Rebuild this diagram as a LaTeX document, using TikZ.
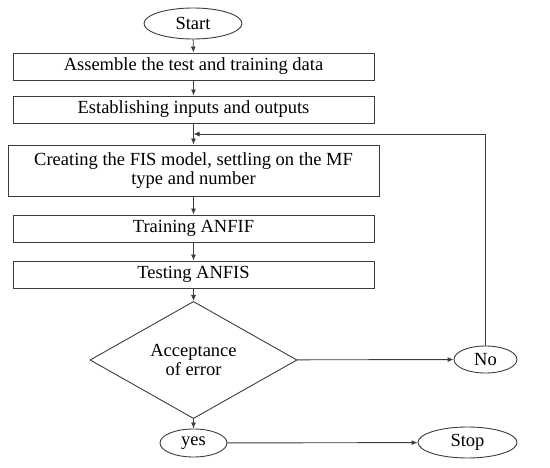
\documentclass[tikz,border=0pt]{standalone}
\usepackage{fontspec}
\setmainfont{Liberation Serif}
\usepackage{tikz}
\usetikzlibrary{shapes.geometric,arrows.meta}
\definecolor{line}{HTML}{3C3C3C}
\tikzset{
  stepbox/.style={draw=line, line width=0.9pt, rectangle, inner sep=0pt, minimum width=361pt, minimum height=27pt, font=\fontsize{18.5}{18.5}\selectfont, align=center},
  term/.style={draw=line, line width=0.9pt, ellipse, inner sep=0pt, font=\fontsize{18.5}{18.5}\selectfont},
  test/.style={draw=line, line width=0.9pt, diamond, inner sep=0pt, minimum width=207pt, minimum height=114pt, font=\fontsize{18.5}{18.5}\selectfont, align=center},
  flow/.style={draw=line, line width=0.9pt, -{Latex[length=6pt,width=5pt]}},
}
\begin{document}
\begin{tikzpicture}[x=1pt,y=-1pt]
  \useasboundingbox (0,0) rectangle (550,468);
  \node[term, minimum width=98pt, minimum height=31pt] (start) at (193,23.5) {Start};
  \node[stepbox] (data) at (193.5,66.5) {Assemble the test and training data};
  \node[stepbox] (io) at (193.5,109.5) {Establishing inputs and outputs};
  \node[stepbox, minimum width=371pt, minimum height=51pt] (fis) at (193.5,170.5) {Creating the FIS model, settling on the MF\\type and number};
  \node[stepbox] (train) at (193.5,228.5) {Training ANFIF};
  \node[stepbox] (testing) at (193.5,274.5) {Testing ANFIS};
  \node[test] (err) at (193.5,360) {Acceptance\\of error};
  \node[term, minimum width=63pt, minimum height=27pt] (no) at (485.5,359.5) {No};
  \node[term, minimum width=67pt, minimum height=28pt] (yes) at (193.5,443) {yes};
  \node[term, minimum width=99pt, minimum height=31pt] (stop) at (467.5,442.5) {Stop};
  \coordinate (back) at (193.5,134);
  \draw[flow] (start) -- (data);
  \draw[flow] (data) -- (io);
  \draw[flow] (io) -- (fis);
  \draw[flow] (fis) -- (train);
  \draw[flow] (train) -- (testing);
  \draw[flow] (testing) -- (err);
  \draw[flow] (err) -- (no);
  \draw[flow] (no.north) |- (back);
  \draw[flow] (err) -- (yes);
  \draw[flow] (yes) -- (stop);
\end{tikzpicture}
\end{document}
